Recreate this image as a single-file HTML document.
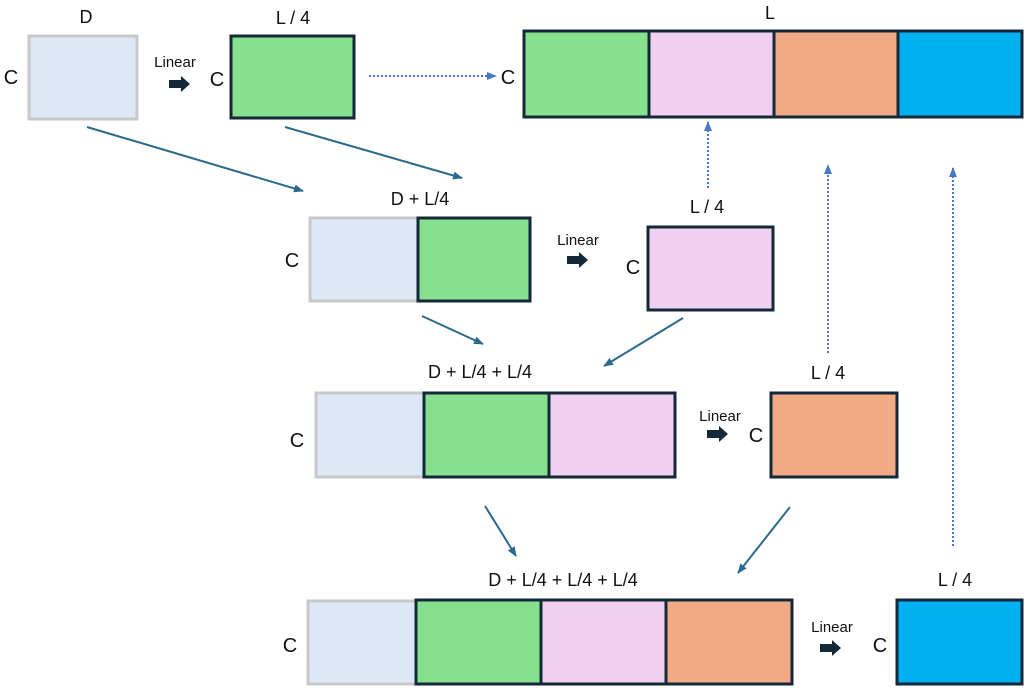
<!DOCTYPE html>
<html><head><meta charset="utf-8"><style>
html,body{margin:0;padding:0;background:#fff;}
svg{display:block;font-family:"Liberation Sans",sans-serif;}
.t{font-size:18px;fill:#111;text-anchor:middle;}
.c{font-size:20px;fill:#111;text-anchor:middle;}
.lin{font-size:15px;fill:#111;text-anchor:middle;}
.lb{fill:#dce8f5;stroke:#c8c8c8;stroke-width:3;}
.k{stroke:#13293a;stroke-width:3;}
.s{stroke:#2a6a8a;stroke-width:2;fill:none;marker-end:url(#ah);}
.d{stroke:#4a78c8;stroke-width:2;stroke-dasharray:2 2;fill:none;marker-end:url(#ad);}
</style></head><body>
<svg width="1026" height="690" viewBox="0 0 1026 690">
<defs>
<marker id="ah" markerWidth="10" markerHeight="8" refX="9" refY="4" orient="auto" markerUnits="userSpaceOnUse"><path d="M0,0 L10,4 L0,8 Z" fill="#2a6a8a"/></marker>
<marker id="ad" markerWidth="10" markerHeight="8" refX="9" refY="4" orient="auto" markerUnits="userSpaceOnUse"><path d="M0,0 L10,4 L0,8 Z" fill="#4a78c8"/></marker>
<g id="arr"><path d="M0,-4 h12 v-4 l9,8 l-9,8 v-4 h-12 z" fill="#13293a"/></g>
</defs>
<!-- Row 0 -->
<text class="t" x="86" y="23">D</text>
<rect class="lb" x="29" y="36" width="108" height="83"/>
<text class="c" x="11" y="84">C</text>
<text class="lin" x="175" y="67">Linear</text>
<use href="#arr" x="169" y="84"/>
<text class="c" x="217" y="86">C</text>
<text class="t" x="293" y="24">L / 4</text>
<rect class="k" x="231" y="36" width="123" height="82" fill="#86e08e"/>
<line class="d" x1="369" y1="76" x2="496" y2="76"/>
<text class="c" x="508" y="84">C</text>
<text class="t" x="770" y="19">L</text>
<rect class="k" x="524" y="31" width="125" height="86" fill="#86e08e"/>
<rect class="k" x="649" y="31" width="125" height="86" fill="#f0d0ee"/>
<rect class="k" x="774" y="31" width="124" height="86" fill="#f2aa85"/>
<rect class="k" x="898" y="31" width="124" height="86" fill="#00b0f0"/>
<line class="s" x1="87" y1="127" x2="303" y2="191"/>
<line class="s" x1="285" y1="127" x2="462" y2="178"/>
<!-- Row 1 -->
<text class="t" x="420" y="205">D + L/4</text>
<text class="c" x="292" y="267">C</text>
<rect class="lb" x="310" y="218" width="108" height="83"/>
<rect class="k" x="418" y="218" width="112" height="83" fill="#86e08e"/>
<text class="lin" x="578" y="245">Linear</text>
<use href="#arr" x="567" y="260"/>
<text class="c" x="633" y="274">C</text>
<text class="t" x="707" y="213">L / 4</text>
<rect class="k" x="648" y="227" width="125" height="83" fill="#f0d0ee"/>
<line class="d" x1="708" y1="188" x2="708" y2="122"/>
<line class="s" x1="422" y1="316" x2="483" y2="344"/>
<line class="s" x1="683" y1="318" x2="604" y2="366"/>
<!-- Row 2 -->
<text class="t" x="480" y="378">D + L/4 + L/4</text>
<text class="c" x="297" y="447">C</text>
<rect class="lb" x="316" y="393" width="108" height="84"/>
<rect class="k" x="424" y="393" width="125" height="84" fill="#86e08e"/>
<rect class="k" x="549" y="393" width="126" height="84" fill="#f0d0ee"/>
<text class="lin" x="720" y="421">Linear</text>
<use href="#arr" x="707" y="434"/>
<text class="c" x="756" y="442">C</text>
<text class="t" x="828" y="379">L / 4</text>
<rect class="k" x="771" y="393" width="126" height="84" fill="#f2aa85"/>
<line class="d" x1="828" y1="353" x2="828" y2="165"/>
<line class="s" x1="485" y1="506" x2="516" y2="556"/>
<line class="s" x1="790" y1="507" x2="738" y2="573"/>
<!-- Row 3 -->
<text class="t" x="563" y="586">D + L/4 + L/4 + L/4</text>
<text class="c" x="290" y="652">C</text>
<rect class="lb" x="308" y="601" width="108" height="83"/>
<rect class="k" x="416" y="600" width="125" height="84" fill="#86e08e"/>
<rect class="k" x="541" y="600" width="125" height="84" fill="#f0d0ee"/>
<rect class="k" x="666" y="600" width="126" height="84" fill="#f2aa85"/>
<text class="lin" x="832" y="632">Linear</text>
<use href="#arr" x="820" y="648"/>
<text class="c" x="880" y="652">C</text>
<text class="t" x="955" y="586">L / 4</text>
<rect class="k" x="897" y="600" width="125" height="84" fill="#00b0f0"/>
<line class="d" x1="953" y1="546" x2="953" y2="168"/>
</svg>
</body></html>
